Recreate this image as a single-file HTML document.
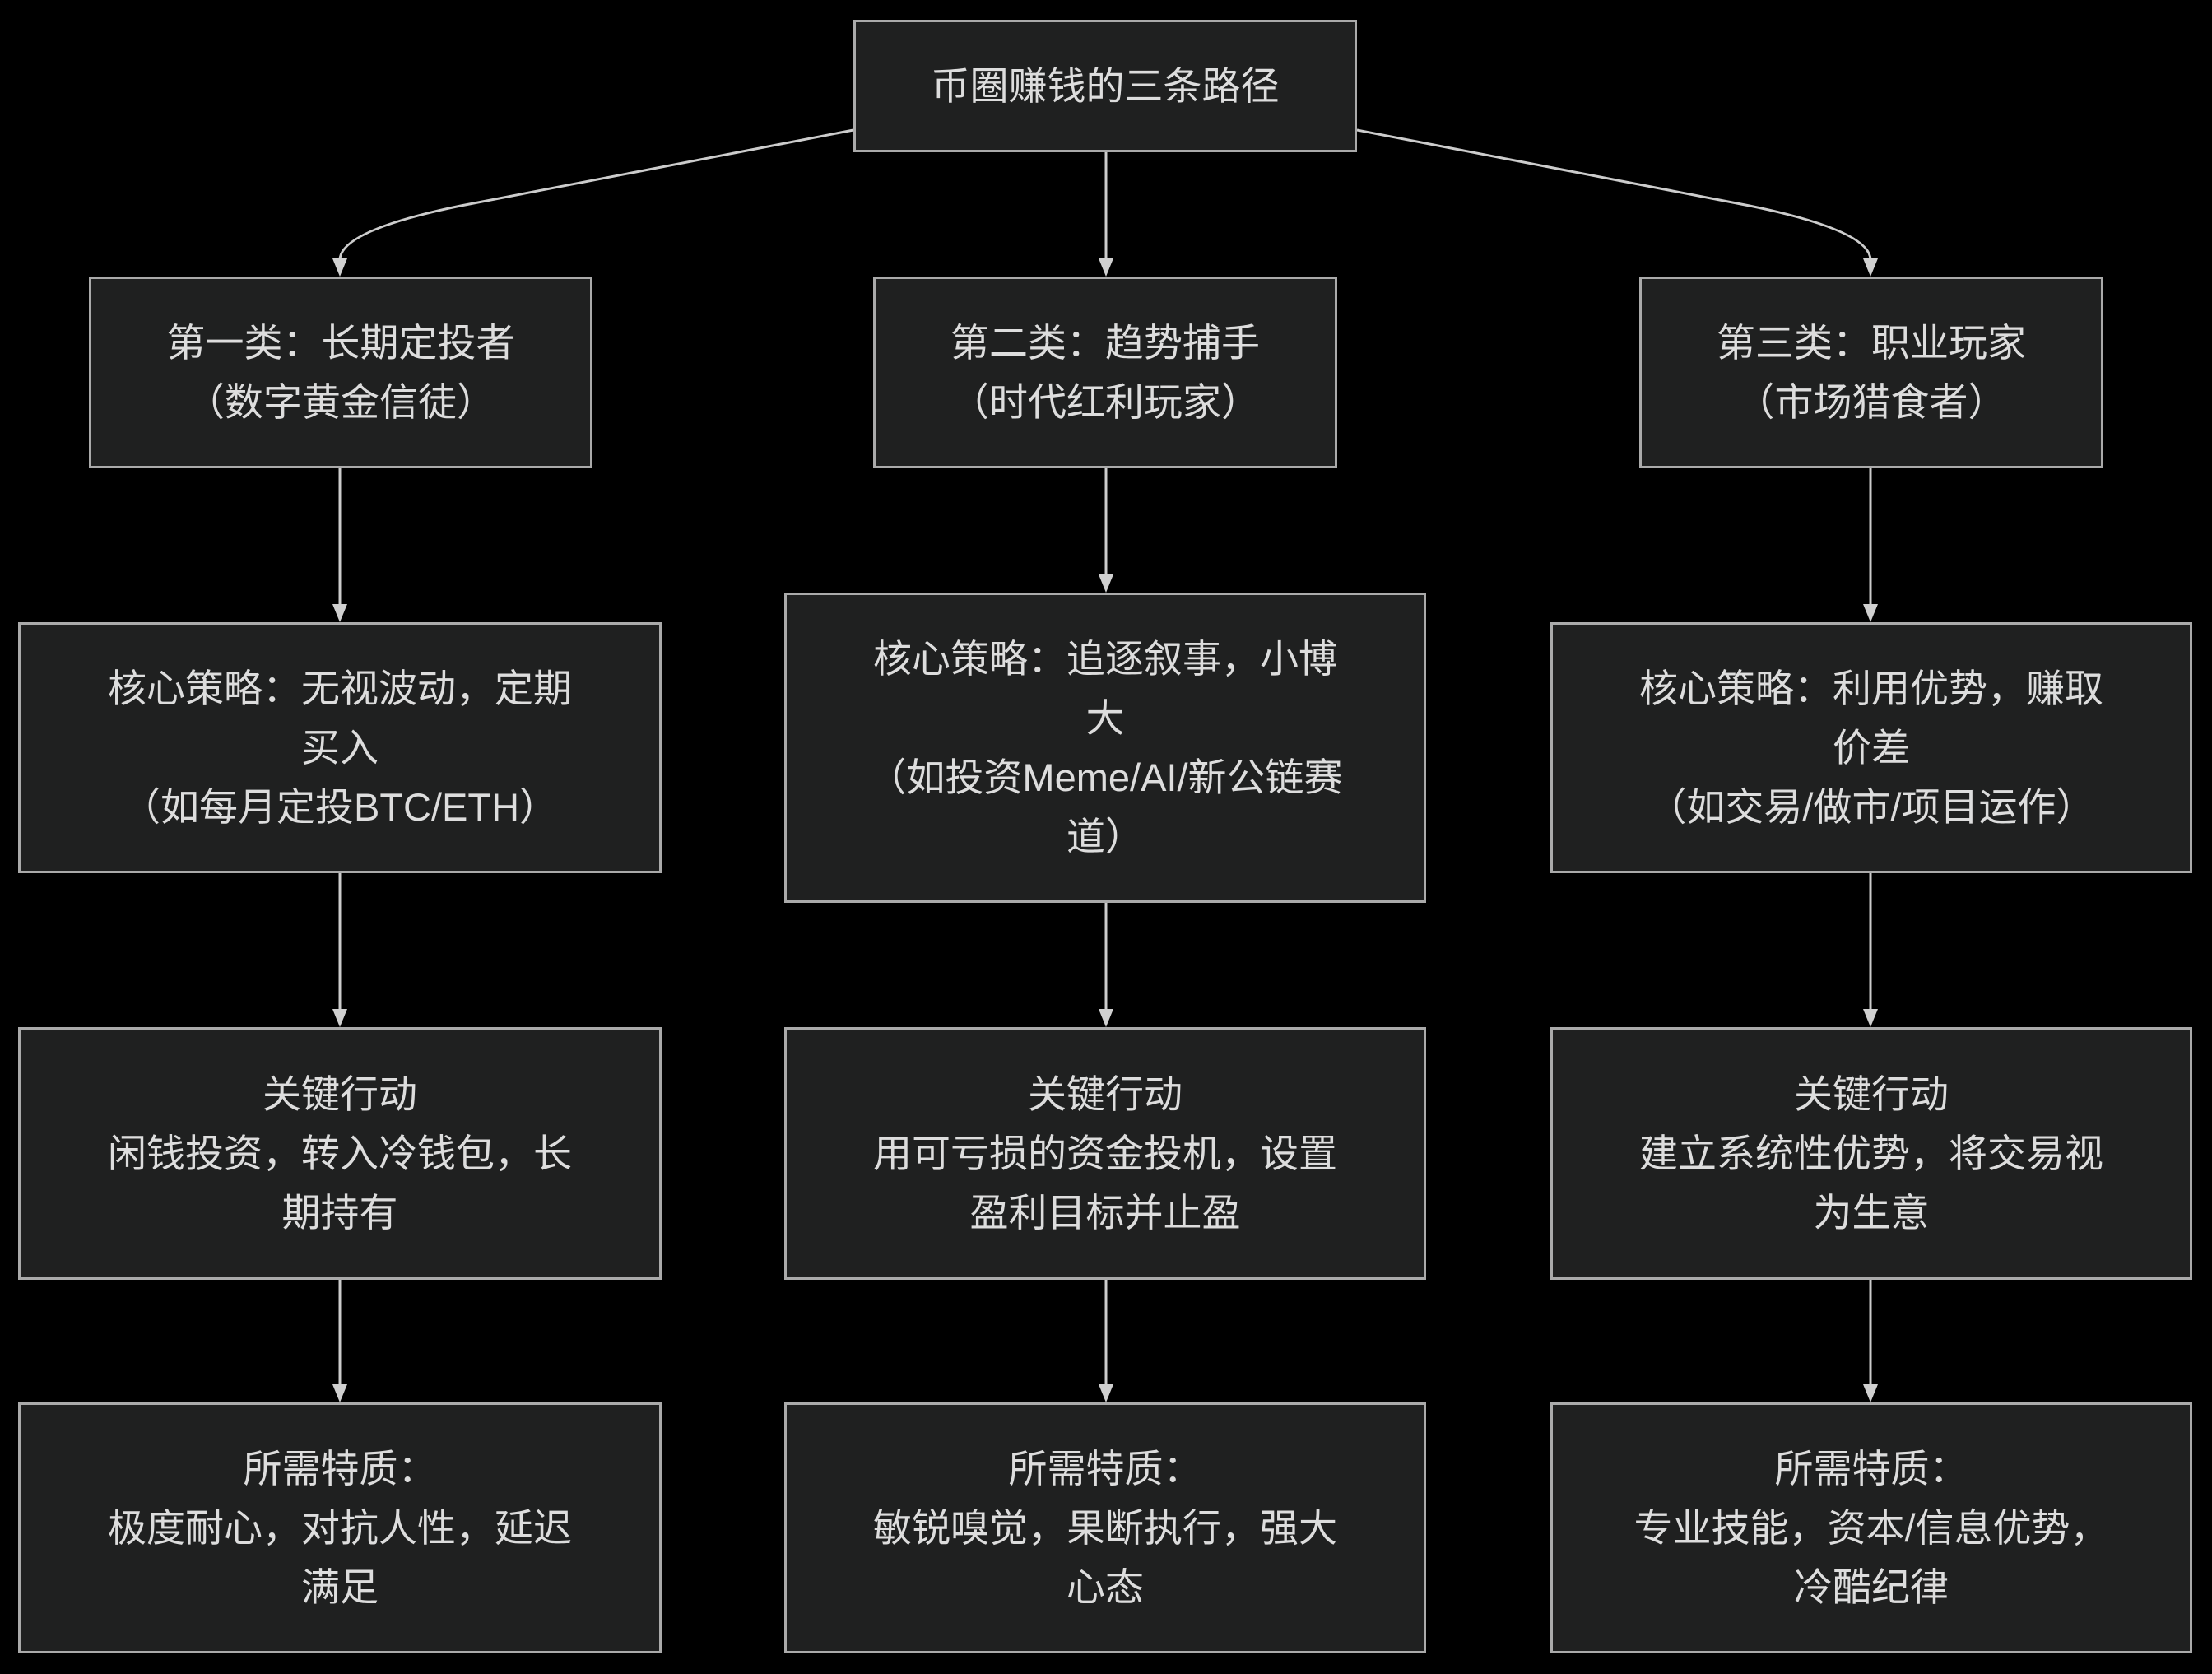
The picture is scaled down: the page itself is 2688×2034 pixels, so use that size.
<!DOCTYPE html>
<html><head><meta charset="utf-8"><style>
html,body{margin:0;padding:0;background:#000;}
body{width:2688px;height:2034px;position:relative;overflow:hidden;font-family:"Liberation Sans","Noto Sans CJK SC",sans-serif;}
.b{position:absolute;box-sizing:border-box;background:#1f2020;border:3px solid #aaa;color:#ddd;font-size:47px;line-height:72px;text-align:center;display:flex;align-items:center;justify-content:center;}
svg{position:absolute;left:0;top:0;}
</style></head><body>
<svg width="2688" height="2034">
<defs><marker id="a" markerWidth="10" markerHeight="10" refX="9" refY="5" orient="auto" markerUnits="userSpaceOnUse" viewBox="0 0 10 10"></marker></defs>
<g stroke="#ccc" stroke-width="3" fill="none">
<path d="M1037,158 L560,250 Q413,280 413,316"/>
<path d="M1649,158 L2126,250 Q2273,280 2273,316"/>
<path d="M1344,185 L1344,316"/>
<path d="M413,569 L413,736"/>
<path d="M1344,569 L1344,700"/>
<path d="M2273,569 L2273,736"/>
<path d="M413,1061 L413,1228"/>
<path d="M1344,1097 L1344,1228"/>
<path d="M2273,1061 L2273,1228"/>
<path d="M413,1555 L413,1684"/>
<path d="M1344,1555 L1344,1684"/>
<path d="M2273,1555 L2273,1684"/>
</g>
<g fill="#d0d0d0">
<path d="M404,314 L422,314 L413,336Z"/>
<path d="M1335,314 L1353,314 L1344,336Z"/>
<path d="M2264,314 L2282,314 L2273,336Z"/>
<path d="M404,734 L422,734 L413,756Z"/>
<path d="M1335,698 L1353,698 L1344,720Z"/>
<path d="M2264,734 L2282,734 L2273,756Z"/>
<path d="M404,1226 L422,1226 L413,1248Z"/>
<path d="M1335,1226 L1353,1226 L1344,1248Z"/>
<path d="M2264,1226 L2282,1226 L2273,1248Z"/>
<path d="M404,1682 L422,1682 L413,1704Z"/>
<path d="M1335,1682 L1353,1682 L1344,1704Z"/>
<path d="M2264,1682 L2282,1682 L2273,1704Z"/>
</g>
</svg>
<div class="b" style="left:1037px;top:24px;width:612px;height:161px;">币圈赚钱的三条路径</div>
<div class="b" style="left:108px;top:336px;width:612px;height:233px;">第一类：长期定投者<br>（数字黄金信徒）</div>
<div class="b" style="left:1061px;top:336px;width:564px;height:233px;">第二类：趋势捕手<br>（时代红利玩家）</div>
<div class="b" style="left:1992px;top:336px;width:564px;height:233px;">第三类：职业玩家<br>（市场猎食者）</div>
<div class="b" style="left:22px;top:756px;width:782px;height:305px;">核心策略：无视波动，定期<br>买入<br>（如每月定投BTC/ETH）</div>
<div class="b" style="left:953px;top:720px;width:780px;height:377px;">核心策略：追逐叙事，小博<br>大<br>（如投资Meme/AI/新公链赛<br>道）</div>
<div class="b" style="left:1884px;top:756px;width:780px;height:305px;">核心策略：利用优势，赚取<br>价差<br>（如交易/做市/项目运作）</div>
<div class="b" style="left:22px;top:1248px;width:782px;height:307px;">关键行动<br>闲钱投资，转入冷钱包，长<br>期持有</div>
<div class="b" style="left:953px;top:1248px;width:780px;height:307px;">关键行动<br>用可亏损的资金投机，设置<br>盈利目标并止盈</div>
<div class="b" style="left:1884px;top:1248px;width:780px;height:307px;">关键行动<br>建立系统性优势，将交易视<br>为生意</div>
<div class="b" style="left:22px;top:1704px;width:782px;height:305px;">所需特质：<br>极度耐心，对抗人性，延迟<br>满足</div>
<div class="b" style="left:953px;top:1704px;width:780px;height:305px;">所需特质：<br>敏锐嗅觉，果断执行，强大<br>心态</div>
<div class="b" style="left:1884px;top:1704px;width:780px;height:305px;">所需特质：<br>专业技能，资本/信息优势，<br>冷酷纪律</div>
</body></html>
